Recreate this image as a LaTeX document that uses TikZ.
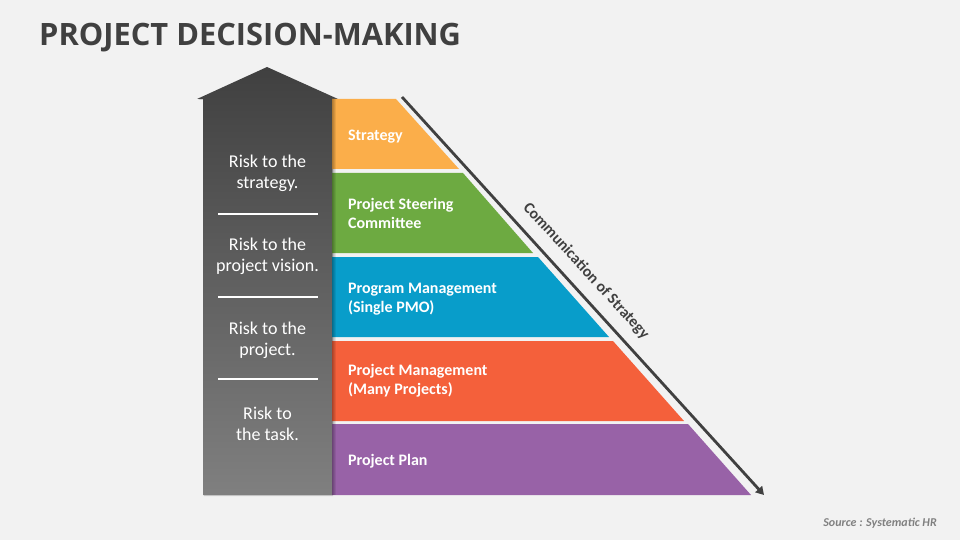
\documentclass[tikz,border=0pt]{standalone}
\usepackage{fontspec}
\setmainfont{Carlito}
\newfontfamily\titlefont{Open Sans}
\usepackage{tikz}
\usetikzlibrary{fadings,positioning,arrows.meta}
\definecolor{pagebg}{HTML}{F2F2F2}
\definecolor{darktext}{HTML}{404040}
\definecolor{bandyellow}{HTML}{FBAE4A}
\definecolor{bandgreen}{HTML}{6DAA41}
\definecolor{bandblue}{HTML}{089DCA}
\definecolor{bandred}{HTML}{F4603B}
\definecolor{bandpurple}{HTML}{9862A7}
\tikzset{
  bandlabel/.style={anchor=west, text=white, font=\bfseries\fontsize{16}{19}\selectfont, align=left},
  risklabel/.style={text=white, font=\fontsize{18}{21.5}\selectfont, align=center},
  riskrule/.style={draw=white, line width=1.4pt},
}

\begin{document}
\begin{tikzpicture}[x=1pt, y=-1pt]
  \fill[pagebg] (0,0) rectangle (960,540);
  \useasboundingbox (0,0) rectangle (960,540);
  \node[anchor=west, text=darktext, font=\titlefont\bfseries\fontsize{30.8}{36}\selectfont, inner sep=0pt] (title) at (39,38) {PROJECT DECISION-MAKING};
  % rising risk arrow
  \fill[black, opacity=.15] (268,68) -- (339,100) -- (333,100) -- (333,496) -- (204,496) -- (204,100) -- (198,100) -- cycle;
  \shade[top color=darktext, bottom color=black!50] (267,67) -- (338,99) -- (332,99) -- (332,495) -- (203,495) -- (203,99) -- (197,99) -- cycle;
  % bands
  \fill[bandyellow] (332,99) -- (396,99) -- (459,169) -- (332,169) -- cycle;
  \fill[bandgreen] (332,173) -- (463,173) -- (533,253) -- (332,253) -- cycle;
  \fill[bandblue] (332,257) -- (538,257) -- (609,337) -- (332,337) -- cycle;
  \fill[bandred] (332,341) -- (613,341) -- (684,421) -- (332,421) -- cycle;
  \fill[bandpurple] (332,424) -- (688,424) -- (751,495) -- (332,495) -- cycle;
  \fill[black, opacity=.3, path fading=east] (332,99) rectangle (336,495);
  \node[bandlabel] (strategy) at (344.5,137) {Strategy};
  \node[bandlabel] (steering) at (344.5,213) {Project Steering\\Committee};
  \node[bandlabel] (program) at (344.5,299) {Program Management\\(Single PMO)};
  \node[bandlabel] (management) at (344.5,381) {Project Management\\(Many Projects)};
  \node[bandlabel] (plan) at (344.5,461) {Project Plan};
  % risks
  \node[risklabel] (riskstrategy) at (267.5,173.5) {Risk to the\\strategy.};
  \node[risklabel] (riskvision) at (267.5,256.5) {Risk to the\\project vision.};
  \node[risklabel] (riskproject) at (267.5,340.5) {Risk to the\\project.};
  \node[risklabel] (risktask) at (267.5,424) {Risk to\\the task.};
  \coordinate (ruleaw) at (218,214); \coordinate (ruleae) at (318,214);
  \coordinate (rulebw) at (218,297); \coordinate (rulebe) at (318,297);
  \coordinate (rulecw) at (218,379); \coordinate (rulece) at (318,379);
  \draw[riskrule] (ruleaw) -- (ruleae);
  \draw[riskrule] (rulebw) -- (rulebe);
  \draw[riskrule] (rulecw) -- (rulece);
  % communication arrow
  \coordinate (commstart) at (402,97);
  \coordinate (commend) at (764,495);
  \draw[darktext, line width=2.8pt, -{Triangle[length=8pt,width=9pt]}] (commstart) -- (commend);
  \node[text=darktext, rotate=-47.5, font=\bfseries\fontsize{15.8}{19}\selectfont] (commlabel) at (586,271) {Communication of Strategy};
  \node[anchor=east, text=black!50, font=\bfseries\itshape\fontsize{12}{14}\selectfont, inner sep=0pt] (source) at (937,523.5) {Source : Systematic HR};
\end{tikzpicture}
\end{document}
